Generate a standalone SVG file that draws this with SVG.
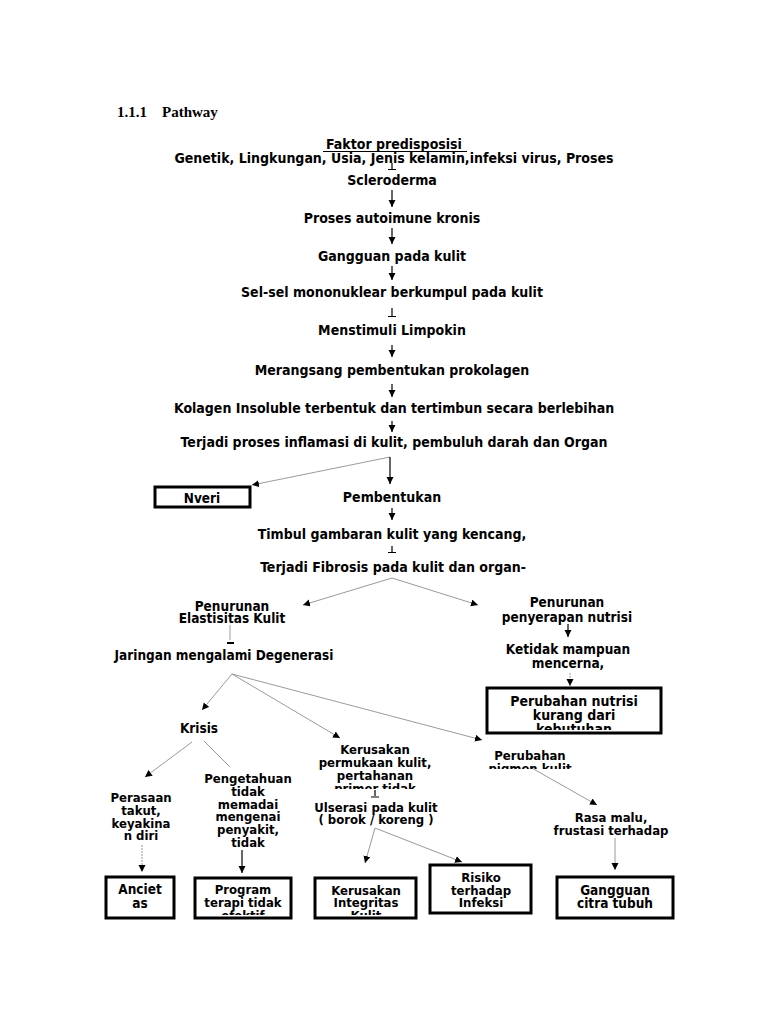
<svg xmlns="http://www.w3.org/2000/svg" width="768" height="1024" viewBox="0 0 768 1024">
<style>
.t{font-family:"DejaVu Sans Condensed","DejaVu Sans","Noto Sans",sans-serif;font-stretch:condensed;font-weight:bold;font-size:14px;text-anchor:middle;fill:#000}
.m{font-size:13.5px}
.s{font-size:13px}
.h{font-family:"Liberation Serif",serif;font-weight:bold;font-size:15px;fill:#000}
.box{fill:#fff;stroke:#000;stroke-width:3}
.ln{stroke:#000;stroke-width:1.2;fill:none}
.lg{stroke:#9a9a9a;stroke-width:1;fill:none}
.ld{stroke:#9a9a9a;stroke-width:1;fill:none;stroke-dasharray:2 1}
</style>
<defs>
<marker id="ah" markerUnits="userSpaceOnUse" markerWidth="8" markerHeight="8" refX="7" refY="3.5" orient="auto">
<path d="M0,0 L7,3.5 L0,7 z" fill="#000"/>
</marker>
<clipPath id="cNveri"><rect x="150" y="480" width="100" height="23"/></clipPath>
<clipPath id="cNut"><rect x="480" y="680" width="190" height="50"/></clipPath>
<clipPath id="cKer"><rect x="300" y="740" width="150" height="49"/></clipPath>
<clipPath id="cPig"><rect x="470" y="745" width="130" height="24"/></clipPath>
<clipPath id="cProg"><rect x="190" y="875" width="110" height="40"/></clipPath>
<clipPath id="cInt"><rect x="310" y="875" width="110" height="40"/></clipPath>
</defs>
<rect width="768" height="1024" fill="#fff"/>

<g id="title">
<text class="h" x="117" y="117">1.1.1</text>
<text class="h" x="162" y="117">Pathway</text>
</g>

<g id="connectors">
<path class="ln" d="M392,163 V169 M388,169.5 H396"/>
<line class="ln" x1="392" y1="190" x2="392" y2="207" marker-end="url(#ah)"/>
<line class="ln" x1="392" y1="228" x2="392" y2="244" marker-end="url(#ah)"/>
<line class="ln" x1="392" y1="266" x2="392" y2="280" marker-end="url(#ah)"/>
<path class="ln" d="M392,308 V316 M388,316.5 H396"/>
<line class="ln" x1="392" y1="345" x2="392" y2="357" marker-end="url(#ah)"/>
<line class="ln" x1="392" y1="384" x2="392" y2="397" marker-end="url(#ah)"/>
<line class="ln" x1="392" y1="421" x2="392" y2="432" marker-end="url(#ah)"/>
<line class="lg" x1="390" y1="457" x2="252" y2="485" marker-end="url(#ah)"/>
<line class="ln" x1="390" y1="457" x2="390" y2="484" marker-end="url(#ah)"/>
<line class="ln" x1="392" y1="508" x2="392" y2="520" marker-end="url(#ah)"/>
<path class="ln" d="M392,546 V552 M388,552.5 H396"/>
<line class="lg" x1="392" y1="578" x2="303" y2="605" marker-end="url(#ah)"/>
<line class="lg" x1="392" y1="578" x2="478" y2="605" marker-end="url(#ah)"/>
<path class="lg" d="M230,625 V640"/>
<path class="ln" d="M227,643 H234" style="stroke-width:2"/>
<line class="ln" x1="568" y1="624" x2="568" y2="637" marker-end="url(#ah)"/>
<line class="ld" x1="570" y1="673" x2="570" y2="686" marker-end="url(#ah)"/>
<line class="lg" x1="232" y1="674" x2="202" y2="710" marker-end="url(#ah)"/>
<line class="lg" x1="232" y1="674" x2="340" y2="738" marker-end="url(#ah)"/>
<line class="lg" x1="232" y1="674" x2="482" y2="740" marker-end="url(#ah)"/>
<line class="lg" x1="192" y1="742" x2="145" y2="777" marker-end="url(#ah)"/>
<line class="lg" x1="204" y1="741" x2="230" y2="767"/>
<line class="lg" x1="530" y1="767" x2="597" y2="805" marker-end="url(#ah)"/>
<path class="ln" d="M375,790 V796 M371,797 H379"/>
<line class="lg" x1="375" y1="828" x2="365" y2="863" marker-end="url(#ah)"/>
<line class="lg" x1="375" y1="828" x2="462" y2="862" marker-end="url(#ah)"/>
<line class="ld" x1="142" y1="845" x2="142" y2="872" marker-end="url(#ah)"/>
<line class="ln" x1="242" y1="850" x2="242" y2="873" marker-end="url(#ah)"/>
<line class="lg" x1="615" y1="838" x2="615" y2="870" marker-end="url(#ah)"/>
</g>

<g id="n-faktor">
<text class="t" x="394" y="149">Faktor predisposisi </text>
<line x1="323" y1="151.5" x2="467" y2="151.5" stroke="#000" stroke-width="1"/>
<text class="t" x="394" y="163">Genetik, Lingkungan, Usia, Jenis kelamin,infeksi virus, Proses</text>
<text class="t" x="392" y="184.5">Scleroderma</text>
</g>
<g id="n-autoimun"><text class="t" x="392" y="223">Proses autoimune kronis</text></g>
<g id="n-gangguan-kulit"><text class="t" x="392" y="261">Gangguan pada kulit</text></g>
<g id="n-sel"><text class="t" x="392" y="296.5">Sel-sel mononuklear berkumpul pada kulit</text></g>
<g id="n-limpokin"><text class="t" x="392" y="335">Menstimuli Limpokin</text></g>
<g id="n-prokolagen"><text class="t" x="392" y="375">Merangsang pembentukan prokolagen</text></g>
<g id="n-kolagen"><text class="t" x="394" y="412.5">Kolagen Insoluble terbentuk dan tertimbun secara berlebihan</text></g>
<g id="n-inflamasi"><text class="t" x="394" y="446.5">Terjadi proses inflamasi di kulit, pembuluh darah dan Organ</text></g>

<g id="n-nveri">
<rect class="box" x="155" y="487" width="95" height="20"/>
<text class="t m" x="202" y="503" clip-path="url(#cNveri)">Nveri</text>
</g>
<g id="n-pembentukan"><text class="t" x="392" y="501.5">Pembentukan</text></g>
<g id="n-timbul"><text class="t" x="392" y="538.5">Timbul gambaran kulit yang kencang,</text></g>
<g id="n-fibrosis"><text class="t" x="393" y="571.5">Terjadi Fibrosis pada kulit dan organ-</text></g>

<g id="n-elastisitas">
<text class="t m" x="232" y="610.5">Penurunan</text>
<text class="t m" x="232" y="623">Elastisitas Kulit</text>
</g>
<g id="n-jaringan"><text class="t m" x="224" y="660">Jaringan mengalami Degenerasi</text></g>
<g id="n-penyerapan">
<text class="t m" x="567" y="606.5">Penurunan</text>
<text class="t m" x="567" y="621.5">penyerapan nutrisi</text>
</g>
<g id="n-mencerna">
<text class="t m" x="568" y="653.5">Ketidak mampuan</text>
<text class="t m" x="568" y="667.5">mencerna,</text>
</g>
<g id="n-nutrisi">
<rect class="box" x="487" y="688" width="174" height="45"/>
<g clip-path="url(#cNut)">
<text class="t" x="574" y="706">Perubahan nutrisi</text>
<text class="t" x="574" y="720">kurang dari</text>
<text class="t" x="574" y="734">kebutuhan</text>
</g>
</g>

<g id="n-krisis"><text class="t m" x="199" y="733">Krisis</text></g>
<g id="n-kerusakan-permukaan" clip-path="url(#cKer)">
<text class="t s" x="375" y="754">Kerusakan</text>
<text class="t s" x="375" y="767">permukaan kulit,</text>
<text class="t s" x="375" y="780">pertahanan</text>
<text class="t s" x="375" y="793">primer tidak</text>
</g>
<g id="n-pigmen" clip-path="url(#cPig)">
<text class="t s" x="530" y="760">Perubahan</text>
<text class="t s" x="530" y="773">pigmen kulit</text>
</g>
<g id="n-perasaan">
<text class="t s" x="141" y="802">Perasaan</text>
<text class="t s" x="141" y="814.5">takut,</text>
<text class="t s" x="141" y="827.5">keyakina</text>
<text class="t s" x="141" y="840">n diri</text>
</g>
<g id="n-pengetahuan">
<text class="t s" x="248" y="783">Pengetahuan</text>
<text class="t s" x="248" y="795.5">tidak</text>
<text class="t s" x="248" y="808.5">memadai</text>
<text class="t s" x="248" y="821">mengenai</text>
<text class="t s" x="248" y="834">penyakit,</text>
<text class="t s" x="248" y="846.5">tidak</text>
</g>
<g id="n-ulserasi">
<text class="t s" x="376" y="812">Ulserasi pada kulit</text>
<text class="t s" x="376" y="824">( borok / koreng )</text>
</g>
<g id="n-rasamalu">
<text class="t s" x="611" y="822">Rasa malu,</text>
<text class="t s" x="611" y="835">frustasi terhadap</text>
</g>

<g id="n-ansietas">
<rect class="box" x="106" y="877" width="68" height="41"/>
<text class="t m" x="140" y="894">Anciet</text>
<text class="t m" x="140" y="908">as</text>
</g>
<g id="n-program">
<rect class="box" x="195" y="878" width="96" height="40"/>
<g clip-path="url(#cProg)">
<text class="t s" x="243" y="894">Program</text>
<text class="t s" x="243" y="907">terapi tidak</text>
<text class="t s" x="243" y="920">efektif</text>
</g>
</g>
<g id="n-integritas">
<rect class="box" x="315" y="878" width="101" height="40"/>
<g clip-path="url(#cInt)">
<text class="t s" x="366" y="895">Kerusakan</text>
<text class="t s" x="366" y="907">Integritas</text>
<text class="t s" x="366" y="920">Kulit</text>
</g>
</g>
<g id="n-infeksi">
<rect class="box" x="430" y="865" width="101" height="48"/>
<text class="t s" x="481" y="882">Risiko</text>
<text class="t s" x="481" y="895">terhadap</text>
<text class="t s" x="481" y="907">Infeksi</text>
</g>
<g id="n-citra">
<rect class="box" x="557" y="877" width="116" height="41"/>
<text class="t m" x="615" y="895">Gangguan</text>
<text class="t m" x="615" y="908">citra tubuh</text>
</g>
</svg>
